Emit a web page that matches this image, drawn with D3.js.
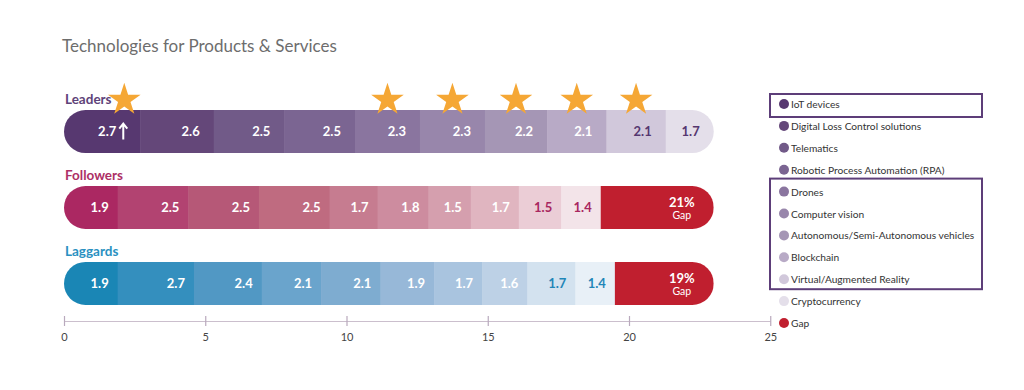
<!DOCTYPE html>
<html><head><meta charset="utf-8">
<script src="https://cdn.jsdelivr.net/npm/d3@7"></script>
<style>
html,body{margin:0;padding:0;background:#fff;}
svg{display:block;font-family:Lato, "Open Sans", sans-serif;}
</style></head>
<body>
<svg id="chart" width="1024" height="390"></svg>
<script>
const title = "Technologies for Products & Services";
const groups = ["Leaders", "Followers", "Laggards"];
const technologies = ["IoT devices", "Digital Loss Control solutions", "Telematics",
  "Robotic Process Automation (RPA)", "Drones", "Computer vision",
  "Autonomous/Semi-Autonomous vehicles", "Blockchain", "Virtual/Augmented Reality",
  "Cryptocurrency", "Gap"];
const leaders   = [2.7, 2.6, 2.5, 2.5, 2.3, 2.3, 2.2, 2.1, 2.1, 1.7];
const followers = [1.9, 2.5, 2.5, 2.5, 1.7, 1.8, 1.5, 1.7, 1.5, 1.4];
const laggards  = [1.9, 2.7, 2.4, 2.1, 2.1, 1.9, 1.7, 1.6, 1.7, 1.4];
const gapValues = [0, 4.0, 3.5];
const gapLabels = ["", "21%", "19%"];
const starredLeaders = [0, 4, 5, 6, 7, 8];
const axisTicks = [0, 5, 10, 15, 20, 25];

const purples = ["#573870","#644779","#715a88","#7b6592","#8a759f","#9886ab","#a596b5","#b8aac6","#d1c8db","#e4dfea"];
const pinks   = ["#ab2862","#b24371","#b65877","#bf6b80","#c67c90","#cd8c9f","#d59fae","#e0b5c0","#ebcdd6","#f3e4e9"];
const blues   = ["#1a86b5","#348fbe","#5198c4","#6aa4cc","#7eacd0","#97b8d8","#a9c4df","#bdd1e6","#d3e2ef","#e8f0f7"];
const gapColor = "#c01f2f";
const legendColors = purples.concat([gapColor]);

const rowsData = [leaders, followers, laggards];
const rowPalettes = [purples, pinks, blues];
const labelColors = ["#5e4379", "#ad2f66", "#2a91c1"];
const darkText = ["#553770", "#a8275f", "#1f86b8"];

const svg = d3.select("#chart");
const x = d3.scaleLinear().domain([0, 25]).range([64, 770.25]);
const y = d3.scaleBand().domain(groups).range([110, 305]).paddingInner(0.434).paddingOuter(0);
const bh = y.bandwidth();

svg.append("text").attr("x", 62).attr("y", 52).text(title)
  .attr("fill", "#6d6d6d").attr("font-size", 17);

const defs = svg.append("defs");

groups.forEach((g, gi) => {
  const vals = rowsData[gi];
  const total = d3.sum(vals) + gapValues[gi];
  const y0 = y(g);
  const clipId = "clip" + gi;
  defs.append("clipPath").attr("id", clipId).append("rect")
    .attr("x", x(0)).attr("y", y0).attr("width", x(total) - x(0)).attr("height", bh)
    .attr("rx", bh / 2).attr("ry", bh / 2);

  svg.append("text").attr("x", 65).attr("y", y0 - 6).text(g)
    .attr("fill", labelColors[gi]).attr("font-size", 13.5).attr("font-weight", 700);

  const grp = svg.append("g").attr("clip-path", `url(#${clipId})`);
  let cum = 0;
  const segs = vals.map((v, i) => { const s = {v, i, start: cum, end: cum + v}; cum += v; return s; });
  grp.selectAll("rect.seg").data(segs).join("rect")
    .attr("x", d => x(d.start)).attr("y", y0)
    .attr("width", d => x(d.end) - x(d.start) + 0.5).attr("height", bh)
    .attr("fill", d => rowPalettes[gi][d.i]);
  if (gapValues[gi] > 0) {
    grp.append("rect").attr("x", x(cum)).attr("y", y0)
      .attr("width", x(cum + gapValues[gi]) - x(cum)).attr("height", bh).attr("fill", gapColor);
    const gx = x(cum + gapValues[gi]) - 32;
    svg.append("text").attr("x", gx).attr("y", y0 + 21).attr("text-anchor", "middle")
      .attr("fill", "#fff").attr("font-size", 13).attr("font-weight", 700).text(gapLabels[gi]);
    svg.append("text").attr("x", gx).attr("y", y0 + 33).attr("text-anchor", "middle")
      .attr("fill", "#fff").attr("font-size", 10.5).text("Gap");
  }
  svg.selectAll(null).data(segs).join("text")
    .attr("x", d => x(d.end) - (gi === 0 ? 14 : 9) - (gi === 0 && d.i === 0 ? 10 : 0))
    .attr("y", y0 + bh / 2 + 4.5).attr("text-anchor", "end")
    .attr("font-size", 13).attr("font-weight", 700)
    .attr("fill", d => d.i >= 8 ? darkText[gi] : "#fff")
    .text(d => d.v.toFixed(1));
  if (gi === 0) {
    const ax = x(segs[0].end) - 17, ay = y0 + bh / 2;
    svg.append("path").attr("d", `M${ax},${ay + 8} L${ax},${ay - 7} M${ax - 4},${ay - 3} L${ax},${ay - 8} L${ax + 4},${ay - 3}`)
      .attr("stroke", "#fff").attr("stroke-width", 2).attr("fill", "none");
    const star = d3.symbol().type(d3.symbolStar).size(330);
    svg.selectAll(null).data(starredLeaders.map(i => segs[i])).join("path")
      .attr("d", star)
      .attr("transform", d => {
        const cx = d.i === 0 ? x(d.end) - 16 : (x(d.start) + x(d.end)) / 2;
        return `translate(${cx},${y0 - 10})`;
      })
      .attr("fill", "#f5a735");
  }
});

// axis
const axisY = 321;
const ax = svg.append("g").attr("transform", `translate(0,${axisY})`)
  .call(d3.axisBottom(x).tickValues(axisTicks).tickSize(0).tickPadding(12).tickFormat(d3.format("d")));
ax.select(".domain").attr("stroke", "#cbbfcd").attr("stroke-width", 1.2);
ax.selectAll(".tick line").attr("y1", -5).attr("y2", 5).attr("stroke", "#b9a9bd").attr("stroke-width", 1.2);
ax.selectAll(".tick text").attr("fill", "#444").attr("font-size", 11).attr("font-family", "Lato, sans-serif");

// legend
const lg = svg.append("g");
const ly = d3.scalePoint().domain(technologies).range([104, 323]);
lg.selectAll("circle").data(technologies).join("circle")
  .attr("cx", 784).attr("cy", d => ly(d)).attr("r", 5)
  .attr("fill", (d, i) => legendColors[i]);
lg.selectAll("text").data(technologies).join("text")
  .attr("x", 791).attr("y", d => ly(d) + 4).text(d => d)
  .attr("font-size", 10.2).attr("fill", "#333");
lg.append("rect").attr("x", 770).attr("y", ly(technologies[0]) - 10)
  .attr("width", 212).attr("height", 23)
  .attr("fill", "none").attr("stroke", "#5d3e79").attr("stroke-width", 2);
lg.append("rect").attr("x", 770).attr("y", ly(technologies[4]) - 13)
  .attr("width", 212).attr("height", ly(technologies[8]) - ly(technologies[4]) + 23)
  .attr("fill", "none").attr("stroke", "#5d3e79").attr("stroke-width", 2);
</script>
</body></html>
